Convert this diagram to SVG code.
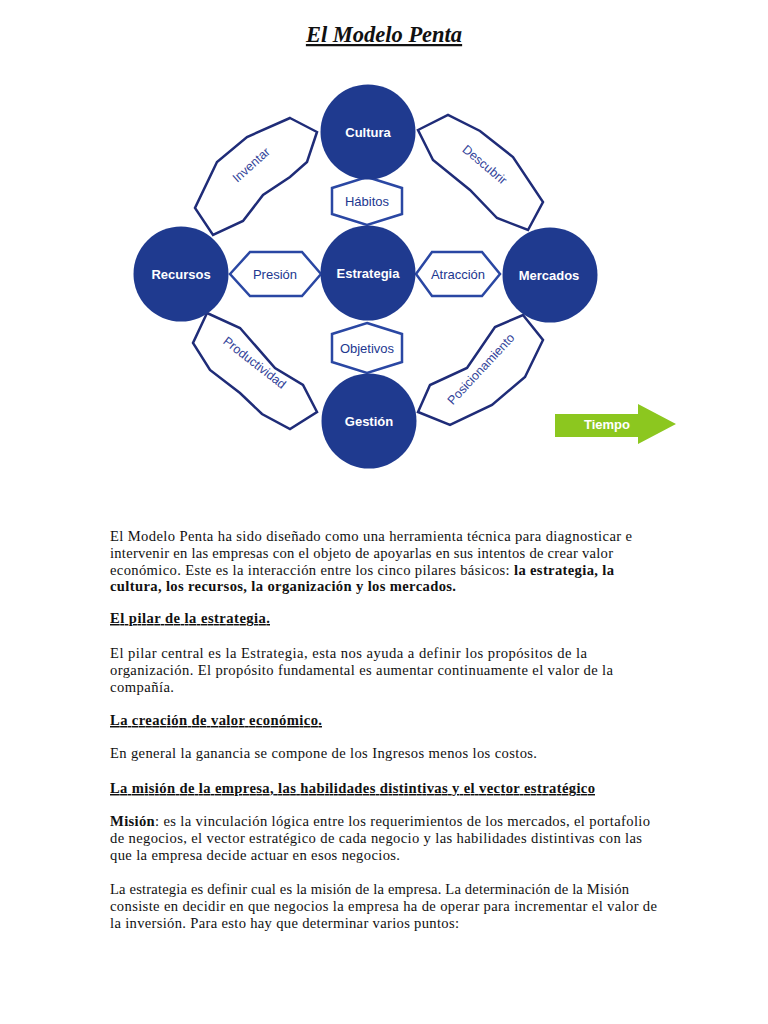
<svg xmlns="http://www.w3.org/2000/svg" width="768" height="1024" viewBox="0 0 768 1024">
<style>
.pillar{fill:#1f3a8f}
.ptext{font-family:"Liberation Sans",Arial,sans-serif;font-size:13px;font-weight:bold;fill:#fff;text-anchor:middle}
.hex{fill:#fff;stroke:#2a47a3;stroke-width:2.5;stroke-linejoin:miter}
.htext{font-family:"Liberation Sans",Arial,sans-serif;font-size:13px;fill:#22378f;text-anchor:middle}
.band{fill:#fff;stroke:#1f2c78;stroke-width:2.5;stroke-linejoin:miter}
.btext{font-family:"Liberation Sans",Arial,sans-serif;font-size:12.5px;fill:#33449a;text-anchor:middle}
.body{font-family:"Liberation Serif","Times New Roman",serif;font-size:14.6px;fill:#111}
.b{font-weight:bold}
.u{text-decoration:underline}
</style>
<rect width="768" height="1024" fill="#fff"/>
<text x="384" y="42" text-anchor="middle" font-family="Liberation Serif,'Times New Roman',serif" font-size="22.5" font-weight="bold" font-style="italic" text-decoration="underline" fill="#111">El Modelo Penta</text>

<g id="connectors">
  <g id="band-inventar">
    <polygon class="band" points="290,118 317,132 307,162 290,177 263,195 243,221 213,235 195,208 217,162 247,137"/>
    <text class="btext" transform="translate(254,168) rotate(-42)">Inventar</text>
  </g>
  <g id="band-descubrir">
    <polygon class="band" points="418,130 448,115 480,131 513,157 543,202 528,230 497,218 470,190 433,160"/>
    <text class="btext" transform="translate(482,168) rotate(40)">Descubrir</text>
  </g>
  <g id="band-productividad">
    <polygon class="band" points="207,313 193,343 210,370 240,393 262,414 290,429 317,412 303,385 275,368 240,328"/>
    <text class="btext" transform="translate(252,366) rotate(38)">Productividad</text>
  </g>
  <g id="band-posicionamiento">
    <polygon class="band" points="523,315 543,340 525,377 492,405 450,425 418,412 430,385 467,368 495,327"/>
    <text class="btext" transform="translate(484,372) rotate(-47)">Posicionamiento</text>
  </g>
  <g id="hex-habitos">
    <polygon class="hex" points="367,177 402,188 402,214 367,225 332,214 332,188"/>
    <text class="htext" x="367" y="206">Hábitos</text>
  </g>
  <g id="hex-objetivos">
    <polygon class="hex" points="367,323 402,334 402,362 367,373 332,362 332,334"/>
    <text class="htext" x="367" y="353">Objetivos</text>
  </g>
  <g id="hex-presion">
    <polygon class="hex" points="230,274 250,252 302,252 321,274 302,296 250,296"/>
    <text class="htext" x="275" y="279">Presión</text>
  </g>
  <g id="hex-atraccion">
    <polygon class="hex" points="416,274 432,252 482,252 500,274 482,296 432,296"/>
    <text class="htext" x="458" y="279">Atracción</text>
  </g>
</g>

<g id="node-cultura">
  <circle class="pillar" cx="368" cy="132" r="47.5"/>
  <text class="ptext" x="368" y="137">Cultura</text>
</g>
<g id="node-estrategia">
  <circle class="pillar" cx="368" cy="273" r="47.5"/>
  <text class="ptext" x="368" y="278">Estrategia</text>
</g>
<g id="node-recursos">
  <circle class="pillar" cx="181" cy="274" r="47.5"/>
  <text class="ptext" x="181" y="279">Recursos</text>
</g>
<g id="node-mercados">
  <circle class="pillar" cx="550" cy="275" r="47.5"/>
  <text class="ptext" x="549" y="280">Mercados</text>
</g>
<g id="node-gestion">
  <circle class="pillar" cx="369" cy="421" r="47.5"/>
  <text class="ptext" x="369" y="426">Gestión</text>
</g>

<g id="tiempo">
  <polygon fill="#8cc71f" points="555,414 638,414 638,404 676,424 638,444 638,437 555,437"/>
  <text x="607" y="429" text-anchor="middle" font-family="Liberation Sans,Arial,sans-serif" font-size="13" font-weight="bold" fill="#fff">Tiempo</text>
</g>

<g id="text">
  <text class="body" x="110" y="541" textLength="522" lengthAdjust="spacing">El Modelo Penta ha sido diseñado como una herramienta técnica para diagnosticar e</text>
  <text class="body" x="110" y="558" textLength="503" lengthAdjust="spacing">intervenir en las empresas con el objeto de apoyarlas en sus intentos de crear valor</text>
  <text class="body" x="110" y="575" textLength="504" lengthAdjust="spacing">económico. Este es la interacción entre los cinco pilares básicos: <tspan class="b">la estrategia, la</tspan></text>
  <text class="body b" x="110" y="591" textLength="346" lengthAdjust="spacing">cultura, los recursos, la organización y los mercados.</text>
  <text class="body b u" x="110" y="623" textLength="160" lengthAdjust="spacing">El pilar de la estrategia. </text>
  <text class="body" x="110" y="658" textLength="477" lengthAdjust="spacing">El pilar central es la Estrategia, esta nos ayuda a definir los propósitos de la</text>
  <text class="body" x="110" y="675" textLength="503" lengthAdjust="spacing">organización. El propósito fundamental es aumentar continuamente el valor de la</text>
  <text class="body" x="110" y="692" textLength="64" lengthAdjust="spacing">compañía.</text>
  <text class="body b u" x="110" y="725" textLength="212" lengthAdjust="spacing">La creación de valor económico.</text>
  <text class="body" x="110" y="758" textLength="427" lengthAdjust="spacing">En general la ganancia se compone de los Ingresos menos los costos.</text>
  <text class="body b u" x="110" y="793" textLength="485" lengthAdjust="spacing">La misión de la empresa, las habilidades distintivas y el vector estratégico</text>
  <text class="body" x="110" y="826" textLength="540" lengthAdjust="spacing"><tspan class="b">Misión</tspan>: es la vinculación lógica entre los requerimientos de los mercados, el portafolio</text>
  <text class="body" x="110" y="843" textLength="532" lengthAdjust="spacing">de negocios, el vector estratégico de cada negocio y las habilidades distintivas con las</text>
  <text class="body" x="110" y="860" textLength="290" lengthAdjust="spacing">que la empresa decide actuar en esos negocios.</text>
  <text class="body" x="110" y="894" textLength="519" lengthAdjust="spacing">La estrategia es definir cual es la misión de la empresa. La determinación de la Misión</text>
  <text class="body" x="110" y="911" textLength="547" lengthAdjust="spacing">consiste en decidir en que negocios la empresa ha de operar para incrementar el valor de</text>
  <text class="body" x="110" y="928" textLength="349" lengthAdjust="spacing">la inversión. Para esto hay que determinar varios puntos:</text>
</g>
</svg>
